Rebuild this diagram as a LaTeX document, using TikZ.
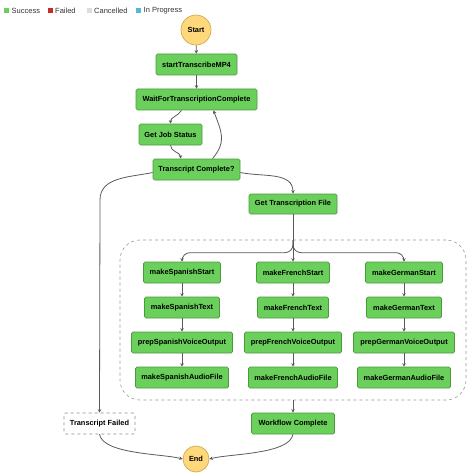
\documentclass[tikz,border=0pt]{standalone}
\usepackage{fontspec}
\setmainfont{Liberation Sans}
\usepackage{tikz}
\usetikzlibrary{arrows.meta,calc}

\definecolor{okfill}{HTML}{6ACF5B}
\definecolor{okline}{HTML}{4A9A3C}
\definecolor{endfill}{HTML}{FFD87C}
\definecolor{endline}{HTML}{CFAA52}
\definecolor{wire}{HTML}{5A5A5A}
\definecolor{failred}{HTML}{C92A2A}
\definecolor{cancelgray}{HTML}{DDDDDD}
\definecolor{runblue}{HTML}{5AB4DE}

\begin{document}
\begin{tikzpicture}[x=1pt,y=-1pt,
    state/.style={draw=okline,fill=okfill,line width=0.7pt,rounded corners=1.5pt,
        minimum height=21pt,inner sep=0pt,font=\bfseries\fontsize{7.4}{8}\selectfont},
    terminal/.style={circle,draw=endline,fill=endfill,line width=0.7pt,inner sep=0pt,
        font=\bfseries\fontsize{7.4}{8}\selectfont},
    failstate/.style={draw=black!45,dashed,fill=white,line width=0.6pt,rounded corners=1.5pt,
        minimum height=21pt,inner sep=0pt,font=\bfseries\fontsize{7.4}{8}\selectfont},
    arr/.style={draw=wire,line width=0.8pt,-{Stealth[length=3.5pt,width=3.5pt]}},
    key/.style={minimum size=5pt,inner sep=0pt},
    keytext/.style={anchor=west,inner sep=0pt,text=black!80,font=\fontsize{7.5}{9}\selectfont}]
    \useasboundingbox (0,0) rectangle (474,476);

    % legend
    \node[key,fill=okfill] (k1) at (6.5,11) {};
    \node[keytext] (k1t) at (11.5,11) {Success};
    \node[key,fill=failred] (k2) at (50,11) {};
    \node[keytext] (k2t) at (55,11) {Failed};
    \node[key,fill=cancelgray] (k3) at (89,11) {};
    \node[keytext] (k3t) at (94,11) {Cancelled};
    \node[key,fill=runblue] (k4) at (138.5,11) {};
    \node[keytext] (k4t) at (143.5,11) {In Progress};

    % main line
    \node[terminal,minimum size=30pt] (start) at (196,30) {Start};
    \node[state,minimum width=81pt] (tmp4) at (196.5,64.5) {startTranscribeMP4};
    \node[state,minimum width=121pt] (wait) at (196.5,99.5) {WaitForTranscriptionComplete};
    \node[state,minimum width=63pt] (job) at (170.5,134.5) {Get Job Status};
    \node[state,minimum width=87pt] (tc) at (196.5,169.5) {Transcript Complete?};
    \node[state,minimum width=88pt,minimum height=20pt] (gtf) at (293,204) {Get Transcription File};

    % parallel block
    \node[draw=black!40,dashed,line width=0.6pt,rounded corners=20pt,
        minimum width=346pt,minimum height=160pt] (par) at (293,320) {};
    \node[state,minimum width=77pt] (esStart) at (182,272.5) {makeSpanishStart};
    \node[state,minimum width=73pt] (frStart) at (293,272.5) {makeFrenchStart};
    \node[state,minimum width=77pt] (deStart) at (404,272.5) {makeGermanStart};
    \node[state,minimum width=75pt] (esText) at (182,307.5) {makeSpanishText};
    \node[state,minimum width=71pt] (frText) at (293,307.5) {makeFrenchText};
    \node[state,minimum width=75pt] (deText) at (404,307.5) {makeGermanText};
    \node[state,minimum width=101pt] (esVoice) at (182,342.5) {prepSpanishVoiceOutput};
    \node[state,minimum width=97pt] (frVoice) at (293,342.5) {prepFrenchVoiceOutput};
    \node[state,minimum width=101pt] (deVoice) at (404,342.5) {prepGermanVoiceOutput};
    \node[state,minimum width=93pt] (esAudio) at (182,377.5) {makeSpanishAudioFile};
    \node[state,minimum width=89pt] (frAudio) at (293,377.5) {makeFrenchAudioFile};
    \node[state,minimum width=93pt] (deAudio) at (404,377.5) {makeGermanAudioFile};

    % endings
    \node[failstate,minimum width=71pt] (tf) at (99.5,423.5) {Transcript Failed};
    \node[state,minimum width=83pt] (wf) at (293,423.5) {Workflow Complete};
    \node[terminal,minimum size=26pt] (end) at (196,459) {End};

    \coordinate (fork) at (293,240);
    \coordinate (drop) at (100,200);

    \draw[arr] (start) -- (tmp4);
    \draw[arr] (tmp4) -- (wait);
    \draw[arr] ([xshift=-15pt]wait.south) to[out=-120,in=90] (job.north);
    \draw[arr] (job.south) to[out=-90,in=90] ([xshift=-16pt]tc.north);
    \draw[arr] ([xshift=16pt]tc.north) to[out=50,in=-70,looseness=1.2] ([xshift=17pt]wait.south);
    \draw[arr] ([yshift=-3pt]tc.east) to[out=-12,in=90] (gtf.north);
    \draw[arr] ([yshift=-3pt]tc.west) to[out=192,in=90] (drop) -- (tf.north);
    \draw[draw=wire,line width=0.8pt] (gtf.south) -- (fork);
    \draw[arr] (fork) -- (frStart.north);
    \draw[arr,rounded corners=8pt] (fork) |- ([yshift=9pt]esStart.north) -- (esStart.north);
    \draw[arr,rounded corners=8pt] (fork) |- ([yshift=9pt]deStart.north) -- (deStart.north);
    \draw[arr] (esStart) -- (esText);
    \draw[arr] (esText) -- (esVoice);
    \draw[arr] (esVoice) -- (esAudio);
    \draw[arr] (frStart) -- (frText);
    \draw[arr] (frText) -- (frVoice);
    \draw[arr] (frVoice) -- (frAudio);
    \draw[arr] (deStart) -- (deText);
    \draw[arr] (deText) -- (deVoice);
    \draw[arr] (deVoice) -- (deAudio);
    \draw[arr] (par.south) -- (wf.north);
    \draw[arr] (tf.south) to[out=-80,in=165,looseness=0.6] (end.west);
    \draw[arr] (wf.south) to[out=-100,in=15,looseness=0.6] (end.east);
\end{tikzpicture}
\end{document}
